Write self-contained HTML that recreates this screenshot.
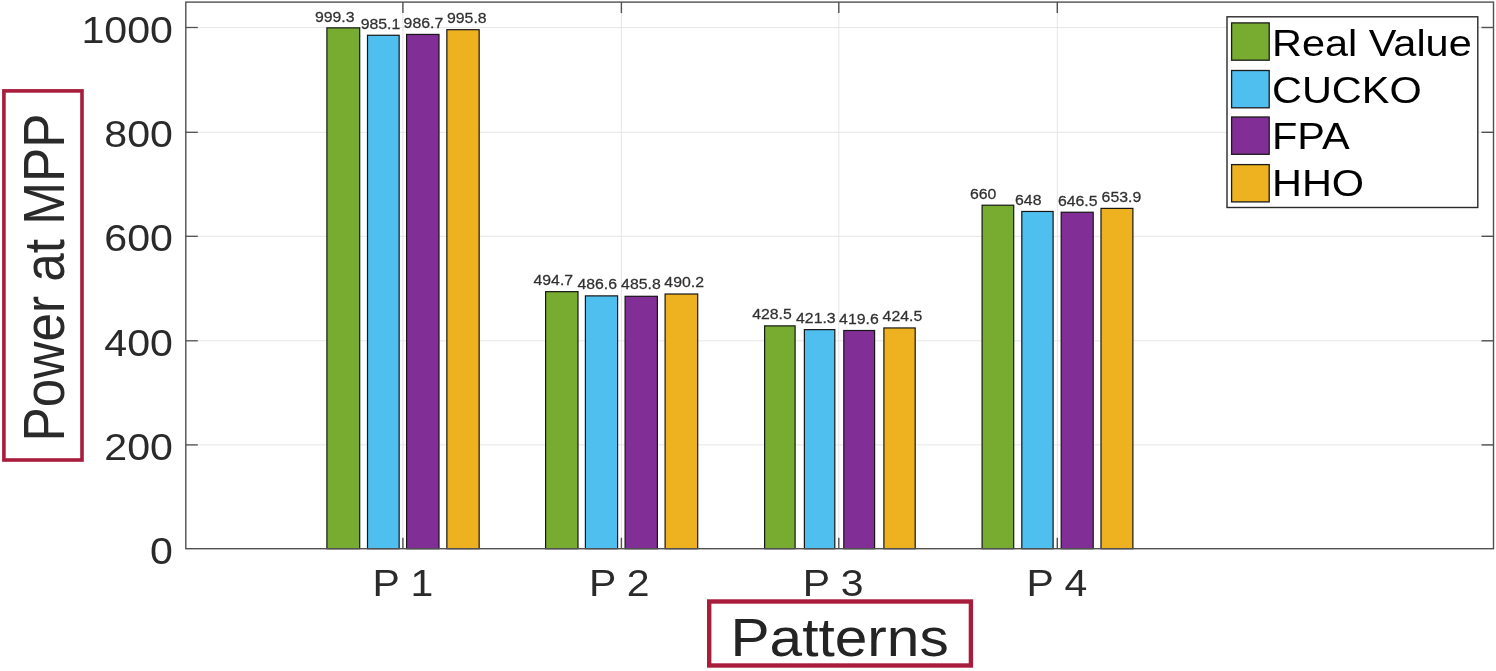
<!DOCTYPE html>
<html lang="en"><head><meta charset="utf-8"><title>Power at MPP vs Patterns</title>
<style>html,body{margin:0;padding:0;background:#fff;}body{width:1496px;height:671px;overflow:hidden;}svg{display:block;}</style>
</head><body>
<svg width="1496" height="671" viewBox="0 0 1496 671" font-family='"Liberation Sans", Arial, Helvetica, sans-serif'>
<rect width="1496" height="671" fill="#fff"/>
<line x1="185.8" x2="1493.5" y1="444.90" y2="444.90" stroke="#e7e7e7" stroke-width="1"/>
<line x1="185.8" x2="1493.5" y1="340.80" y2="340.80" stroke="#e7e7e7" stroke-width="1"/>
<line x1="185.8" x2="1493.5" y1="236.30" y2="236.30" stroke="#e7e7e7" stroke-width="1"/>
<line x1="185.8" x2="1493.5" y1="132.30" y2="132.30" stroke="#e7e7e7" stroke-width="1"/>
<line x1="185.8" x2="1493.5" y1="27.50" y2="27.50" stroke="#e7e7e7" stroke-width="1"/>
<line x1="402.90" x2="402.90" y1="2.1" y2="548.7" stroke="#e2e2e2" stroke-width="0.9"/>
<line x1="621.40" x2="621.40" y1="2.1" y2="548.7" stroke="#e2e2e2" stroke-width="0.9"/>
<line x1="838.80" x2="838.80" y1="2.1" y2="548.7" stroke="#e2e2e2" stroke-width="0.9"/>
<line x1="1057.30" x2="1057.30" y1="2.1" y2="548.7" stroke="#e2e2e2" stroke-width="0.9"/>
<line x1="185.8" x2="197.8" y1="444.90" y2="444.90" stroke="#515151" stroke-width="1.3"/>
<line x1="1481.5" x2="1493.5" y1="444.90" y2="444.90" stroke="#515151" stroke-width="1.4"/>
<line x1="185.8" x2="197.8" y1="340.80" y2="340.80" stroke="#515151" stroke-width="1.3"/>
<line x1="1481.5" x2="1493.5" y1="340.80" y2="340.80" stroke="#515151" stroke-width="1.4"/>
<line x1="185.8" x2="197.8" y1="236.30" y2="236.30" stroke="#515151" stroke-width="1.3"/>
<line x1="1481.5" x2="1493.5" y1="236.30" y2="236.30" stroke="#515151" stroke-width="1.4"/>
<line x1="185.8" x2="197.8" y1="132.30" y2="132.30" stroke="#515151" stroke-width="1.3"/>
<line x1="1481.5" x2="1493.5" y1="132.30" y2="132.30" stroke="#515151" stroke-width="1.4"/>
<line x1="185.8" x2="197.8" y1="27.50" y2="27.50" stroke="#515151" stroke-width="1.3"/>
<line x1="1481.5" x2="1493.5" y1="27.50" y2="27.50" stroke="#515151" stroke-width="1.4"/>
<line x1="402.90" x2="402.90" y1="2.1" y2="13.1" stroke="#515151" stroke-width="1.4"/>
<line x1="621.40" x2="621.40" y1="2.1" y2="13.1" stroke="#515151" stroke-width="1.4"/>
<line x1="838.80" x2="838.80" y1="2.1" y2="13.1" stroke="#515151" stroke-width="1.4"/>
<line x1="1057.30" x2="1057.30" y1="2.1" y2="13.1" stroke="#515151" stroke-width="1.4"/>
<rect x="326.90" y="27.86" width="32.80" height="520.84" fill="#77AC30" stroke="#161616" stroke-width="1.2"/>
<text transform="translate(314.90,21.66) scale(1.07,1)" font-size="14.8" text-anchor="start" fill="#303030" stroke="#303030" stroke-width="0.25">999.3</text>
<rect x="367.50" y="35.27" width="31.65" height="513.43" fill="#4FBFF0" stroke="#161616" stroke-width="1.2"/>
<text transform="translate(360.70,29.07) scale(1.07,1)" font-size="14.8" text-anchor="start" fill="#303030" stroke="#303030" stroke-width="0.25">985.1</text>
<rect x="406.60" y="34.43" width="32.40" height="514.27" fill="#812F96" stroke="#161616" stroke-width="1.2"/>
<text transform="translate(403.60,28.23) scale(1.07,1)" font-size="14.8" text-anchor="start" fill="#303030" stroke="#303030" stroke-width="0.25">986.7</text>
<rect x="446.85" y="29.69" width="32.30" height="519.01" fill="#EEB120" stroke="#161616" stroke-width="1.2"/>
<text transform="translate(447.00,23.49) scale(1.07,1)" font-size="14.8" text-anchor="start" fill="#303030" stroke="#303030" stroke-width="0.25">995.8</text>
<rect x="545.60" y="291.66" width="32.40" height="257.04" fill="#77AC30" stroke="#161616" stroke-width="1.2"/>
<text transform="translate(533.50,284.66) scale(1.07,1)" font-size="14.8" text-anchor="start" fill="#303030" stroke="#303030" stroke-width="0.25">494.7</text>
<rect x="585.40" y="295.88" width="32.20" height="252.82" fill="#4FBFF0" stroke="#161616" stroke-width="1.2"/>
<text transform="translate(577.40,288.88) scale(1.07,1)" font-size="14.8" text-anchor="start" fill="#303030" stroke="#303030" stroke-width="0.25">486.6</text>
<rect x="625.10" y="296.30" width="32.30" height="252.40" fill="#812F96" stroke="#161616" stroke-width="1.2"/>
<text transform="translate(621.10,289.30) scale(1.07,1)" font-size="14.8" text-anchor="start" fill="#303030" stroke="#303030" stroke-width="0.25">485.8</text>
<rect x="665.10" y="294.01" width="32.60" height="254.69" fill="#EEB120" stroke="#161616" stroke-width="1.2"/>
<text transform="translate(664.35,287.01) scale(1.07,1)" font-size="14.8" text-anchor="start" fill="#303030" stroke="#303030" stroke-width="0.25">490.2</text>
<rect x="764.60" y="325.87" width="30.50" height="222.83" fill="#77AC30" stroke="#161616" stroke-width="1.2"/>
<text transform="translate(752.15,319.17) scale(1.07,1)" font-size="14.8" text-anchor="start" fill="#303030" stroke="#303030" stroke-width="0.25">428.5</text>
<rect x="804.40" y="329.62" width="30.40" height="219.08" fill="#4FBFF0" stroke="#161616" stroke-width="1.2"/>
<text transform="translate(796.05,322.92) scale(1.07,1)" font-size="14.8" text-anchor="start" fill="#303030" stroke="#303030" stroke-width="0.25">421.3</text>
<rect x="843.80" y="330.50" width="30.80" height="218.20" fill="#812F96" stroke="#161616" stroke-width="1.2"/>
<text transform="translate(839.10,323.80) scale(1.07,1)" font-size="14.8" text-anchor="start" fill="#303030" stroke="#303030" stroke-width="0.25">419.6</text>
<rect x="883.90" y="327.95" width="31.30" height="220.75" fill="#EEB120" stroke="#161616" stroke-width="1.2"/>
<text transform="translate(882.60,321.25) scale(1.07,1)" font-size="14.8" text-anchor="start" fill="#303030" stroke="#303030" stroke-width="0.25">424.5</text>
<rect x="982.10" y="205.21" width="31.60" height="343.49" fill="#77AC30" stroke="#161616" stroke-width="1.2"/>
<text transform="translate(969.90,198.51) scale(1.07,1)" font-size="14.8" text-anchor="start" fill="#303030" stroke="#303030" stroke-width="0.25">660</text>
<rect x="1021.80" y="211.46" width="31.30" height="337.24" fill="#4FBFF0" stroke="#161616" stroke-width="1.2"/>
<text transform="translate(1015.05,204.76) scale(1.07,1)" font-size="14.8" text-anchor="start" fill="#303030" stroke="#303030" stroke-width="0.25">648</text>
<rect x="1061.20" y="212.24" width="32.00" height="336.46" fill="#812F96" stroke="#161616" stroke-width="1.2"/>
<text transform="translate(1057.95,205.54) scale(1.07,1)" font-size="14.8" text-anchor="start" fill="#303030" stroke="#303030" stroke-width="0.25">646.5</text>
<rect x="1101.00" y="208.39" width="31.90" height="340.31" fill="#EEB120" stroke="#161616" stroke-width="1.2"/>
<text transform="translate(1101.60,201.69) scale(1.07,1)" font-size="14.8" text-anchor="start" fill="#303030" stroke="#303030" stroke-width="0.25">653.9</text>
<line x1="402.90" x2="402.90" y1="537.7" y2="548.7" stroke="#515151" stroke-width="1.4"/>
<line x1="621.40" x2="621.40" y1="537.7" y2="548.7" stroke="#515151" stroke-width="1.4"/>
<line x1="838.80" x2="838.80" y1="537.7" y2="548.7" stroke="#515151" stroke-width="1.4"/>
<line x1="1057.30" x2="1057.30" y1="537.7" y2="548.7" stroke="#515151" stroke-width="1.4"/>
<rect x="185.8" y="2.1" width="1307.7" height="546.6" fill="none" stroke="#515151" stroke-width="1.4"/>
<text transform="translate(172.90,564.20) scale(1.1,1)" font-size="37.4" text-anchor="end" fill="#2a2a2a">0</text>
<text transform="translate(172.90,459.96) scale(1.1,1)" font-size="37.4" text-anchor="end" fill="#2a2a2a">200</text>
<text transform="translate(172.90,355.72) scale(1.1,1)" font-size="37.4" text-anchor="end" fill="#2a2a2a">400</text>
<text transform="translate(172.90,251.48) scale(1.1,1)" font-size="37.4" text-anchor="end" fill="#2a2a2a">600</text>
<text transform="translate(172.90,147.24) scale(1.1,1)" font-size="37.4" text-anchor="end" fill="#2a2a2a">800</text>
<text transform="translate(172.90,43.00) scale(1.1,1)" font-size="37.4" text-anchor="end" fill="#2a2a2a">1000</text>
<text transform="translate(372.50,596.20) scale(1.107,1)" font-size="37.0" text-anchor="start" fill="#2a2a2a">P 1</text>
<text transform="translate(588.90,596.20) scale(1.107,1)" font-size="37.0" text-anchor="start" fill="#2a2a2a">P 2</text>
<text transform="translate(802.80,596.20) scale(1.107,1)" font-size="37.0" text-anchor="start" fill="#2a2a2a">P 3</text>
<text transform="translate(1026.60,596.20) scale(1.107,1)" font-size="37.0" text-anchor="start" fill="#2a2a2a">P 4</text>
<rect x="1227.0" y="16.8" width="250.79999999999995" height="190.7" fill="#fff" stroke="#2a2a2a" stroke-width="1.4"/>
<rect x="1231.6" y="22.9" width="37.6" height="37.3" fill="#77AC30" stroke="#1c1c1c" stroke-width="1.3"/>
<text transform="translate(1272.00,56.00) scale(1.1,1)" font-size="37.7" text-anchor="start" fill="#000">Real Value</text>
<rect x="1231.6" y="70.5" width="37.6" height="37.3" fill="#4FBFF0" stroke="#1c1c1c" stroke-width="1.3"/>
<text transform="translate(1272.00,103.00) scale(1.1,1)" font-size="37.7" text-anchor="start" fill="#000">CUCKO</text>
<rect x="1231.6" y="117.0" width="37.6" height="37.3" fill="#812F96" stroke="#1c1c1c" stroke-width="1.3"/>
<text transform="translate(1272.00,149.40) scale(1.1,1)" font-size="37.7" text-anchor="start" fill="#000">FPA</text>
<rect x="1231.6" y="164.6" width="37.6" height="37.3" fill="#EEB120" stroke="#1c1c1c" stroke-width="1.3"/>
<text transform="translate(1272.00,195.80) scale(1.1,1)" font-size="37.7" text-anchor="start" fill="#000">HHO</text>
<rect x="3.9" y="90.9" width="78.1" height="369.1" fill="none" stroke="#a81c3c" stroke-width="3.6"/>
<text transform="translate(64.0,277.5) rotate(-90) scale(1,1.1)" font-size="51.3" text-anchor="middle" fill="#2a2a2a">Power at MPP</text>
<rect x="709.2" y="601.5" width="261.7" height="64.0" fill="none" stroke="#a81c3c" stroke-width="4.4"/>
<text transform="translate(839.60,655.50) scale(1.088,1)" font-size="53.9" text-anchor="middle" fill="#242424">Patterns</text>
</svg>
</body></html>
